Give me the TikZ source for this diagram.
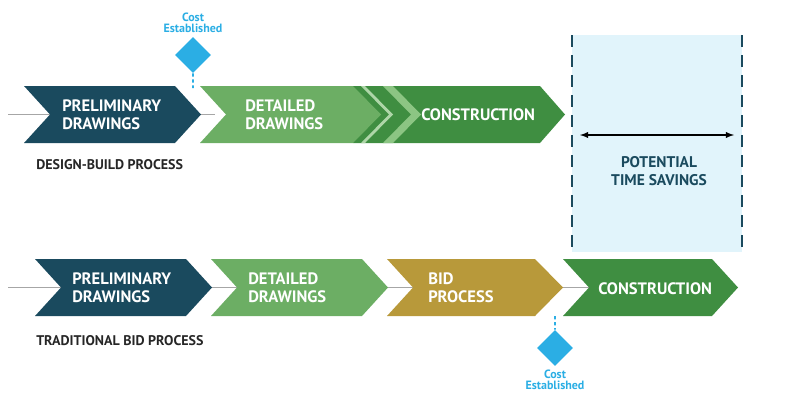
\documentclass[tikz,border=0pt]{standalone}
\usepackage{fontspec}
\setmainfont{PT Sans}
\begin{document}
\begin{tikzpicture}[x=0.75pt,y=-0.75pt]
\definecolor{dteal}{HTML}{1A4A5E}
\definecolor{lgreen}{HTML}{6CAE64}
\definecolor{cgreen}{HTML}{3F8E41}
\definecolor{gold}{HTML}{B8993A}
\definecolor{lblue}{HTML}{E1F4FB}
\definecolor{dblue}{HTML}{2BAEE4}
\definecolor{stripe}{HTML}{8CC583}
\tikzset{lbl/.style={text=white,font=\bfseries\fontsize{12.4}{13.5}\selectfont,align=left,anchor=west,inner sep=0pt},
 ttl/.style={text=black!85,font=\bfseries\fontsize{10.5}{12}\selectfont,anchor=west,inner sep=0pt},
 cost/.style={text=dblue,font=\bfseries\fontsize{9}{9}\selectfont,align=center},
 gline/.style={draw=black!35,line width=0.6pt}}
\useasboundingbox (0,0) rectangle (792,404);
% time savings box
\fill[lblue] (572,35) rectangle (742,252);
\draw[dteal,line width=1.3pt,dash pattern=on 9pt off 6pt] (572,35) -- (572,252) (742,35) -- (742,252);
\coordinate (ta) at (580,135); \coordinate (tb) at (734,135);
\draw[latex-latex,line width=1.1pt] (ta) -- (tb);
\node[text=dteal,font=\bfseries\fontsize{11.6}{14}\selectfont,align=center] (ts) at (659,171) {POTENTIAL\\TIME SAVINGS};
% top row
\coordinate (l1) at (8,114.5); \coordinate (l2) at (215,114.5);
\draw[gline] (l1) -- (l2);
\fill[cgreen] (353,86) -- (540,86) -- (565,114.5) -- (540,143) -- (353,143) -- cycle;
\fill[stripe] (383,86) -- (393,86) -- (421,114.5) -- (393,143) -- (383,143) -- (411,114.5) -- cycle;
\fill[stripe!70!white] (361,86) -- (365,86) -- (393,114.5) -- (365,143) -- (361,143) -- (389,114.5) -- cycle;
\fill[lgreen] (200,86) -- (353,86) -- (381,114.5) -- (353,143) -- (200,143) -- (226,114.5) -- cycle;
\fill[dteal] (24,86) -- (175,86) -- (201,114.5) -- (175,143) -- (24,143) -- (50,114.5) -- cycle;
\node[lbl] (p1) at (62,114.5) {PRELIMINARY\\DRAWINGS};
\node[lbl] (d1) at (245,114.5) {DETAILED\\DRAWINGS};
\node[lbl] (c1) at (421,114.5) {CONSTRUCTION};
\node[ttl] (t1) at (36,165) {DESIGN-BUILD PROCESS};
\node[fill=dblue,minimum size=19pt,inner sep=0pt,rotate=45] (m1) at (193,55) {};
\coordinate (m1e) at (193,88);
\draw[dblue,line width=1.2pt,dash pattern=on 2.5pt off 2pt] (m1) -- (m1e);
\node[cost] (k1) at (193,23) {Cost\\[-1pt]Established};
% bottom row
\coordinate (l3) at (8,287.5); \coordinate (l4) at (590,287.5);
\draw[gline] (l3) -- (l4);
\fill[dteal] (35,259) -- (186,259) -- (212,287.5) -- (186,316) -- (35,316) -- (61,287.5) -- cycle;
\fill[lgreen] (211,259) -- (362,259) -- (388,287.5) -- (362,316) -- (211,316) -- (237,287.5) -- cycle;
\fill[gold] (387,259) -- (535,259) -- (563,287.5) -- (535,316) -- (387,316) -- (413,287.5) -- cycle;
\fill[cgreen] (563,259) -- (712,259) -- (738,287.5) -- (712,316) -- (563,316) -- (589,287.5) -- cycle;
\node[lbl] (p2) at (72,287.5) {PRELIMINARY\\DRAWINGS};
\node[lbl] (d2) at (248,287.5) {DETAILED\\DRAWINGS};
\node[lbl] (b2) at (428,287.5) {BID\\PROCESS};
\node[lbl] (c2) at (598,289) {CONSTRUCTION};
\node[ttl] (t2) at (36,341) {TRADITIONAL BID PROCESS};
\node[fill=dblue,minimum size=19pt,inner sep=0pt,rotate=45] (m2) at (555,348) {};
\coordinate (m2e) at (555,316);
\draw[dblue,line width=1.2pt,dash pattern=on 2.5pt off 2pt] (m2e) -- (m2);
\node[cost] (k2) at (555,380) {Cost\\[-1pt]Established};
\end{tikzpicture}
\end{document}
